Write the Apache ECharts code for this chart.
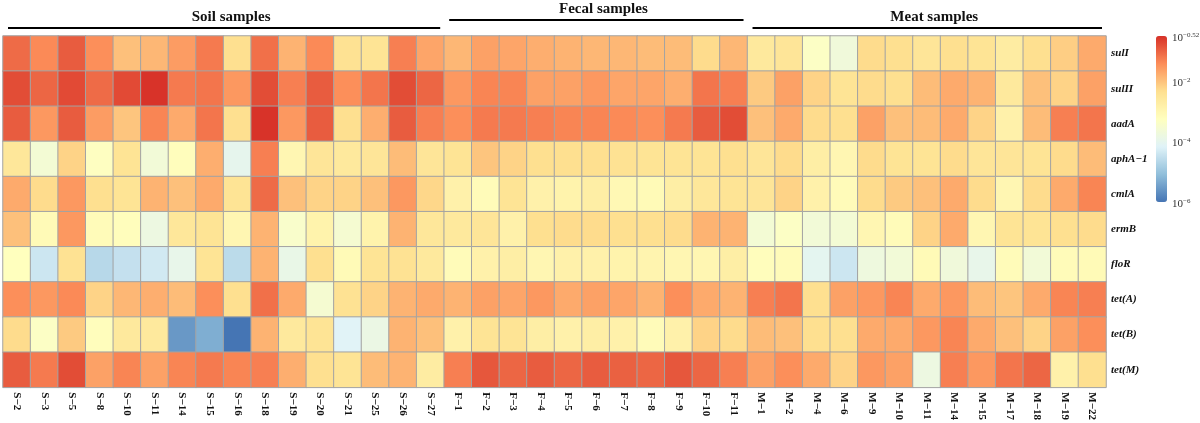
<!DOCTYPE html>
<html>
<head>
<meta charset="utf-8">
<title>ARG heatmap</title>
<script src="https://cdn.jsdelivr.net/npm/echarts@6/dist/echarts.min.js"></script>
<style>
  html, body { margin: 0; padding: 0; background: #fff; }
  #main { width: 1200px; height: 423px; }
</style>
</head>
<body>
<div id="main"></div>
<script>
// sample names (x axis), in drawing order
const soilSamples = ['S−2', 'S−3', 'S−5', 'S−8', 'S−10', 'S−11', 'S−14', 'S−15', 'S−16', 'S−18', 'S−19', 'S−20', 'S−21', 'S−25', 'S−26', 'S−27'];
const fecalSamples = ['F−1', 'F−2', 'F−3', 'F−4', 'F−5', 'F−6', 'F−7', 'F−8', 'F−9', 'F−10', 'F−11'];
const meatSamples = ['M−1', 'M−2', 'M−4', 'M−6', 'M−9', 'M−10', 'M−11', 'M−14', 'M−15', 'M−17', 'M−18', 'M−19', 'M−22'];
const groupNames = ['Soil samples', 'Fecal samples', 'Meat samples'];

// genes (rows, top to bottom)
const genes = ['sulI', 'sulII', 'aadA', 'aphA−1', 'cmlA', 'ermB', 'floR', 'tet(A)', 'tet(B)', 'tet(M)'];

// log10 relative abundance per gene: 16 soil, 11 fecal, 13 meat
const sulI = [-1.1, -1.4, -0.95, -1.45, -2.0, -1.9, -1.6, -1.25, -2.35, -1.15, -1.85, -1.4, -2.4, -2.45, -1.3, -1.7,
  -1.9, -1.65, -1.7, -1.8, -1.85, -1.9, -1.9, -1.95, -1.95, -2.3, -1.9,
  -2.6, -2.5, -3.35, -3.7, -2.3, -2.35, -2.5, -2.35, -2.45, -2.7, -2.35, -2.15, -1.75];
const sulII = [-0.8, -1.05, -0.78, -1.1, -0.78, -0.55, -1.25, -1.2, -1.55, -0.8, -1.3, -0.95, -1.45, -1.2, -0.8, -1.05,
  -1.55, -1.35, -1.35, -1.65, -1.65, -1.55, -1.7, -1.7, -1.8, -1.2, -1.3,
  -2.1, -1.65, -2.2, -2.45, -2.3, -2.35, -1.95, -1.75, -1.85, -2.6, -2.0, -2.2, -1.65];
const aadA = [-0.95, -1.55, -0.95, -1.6, -2.05, -1.35, -1.75, -1.2, -2.35, -0.55, -1.55, -0.95, -2.35, -1.8, -0.95, -1.3,
  -1.45, -1.25, -1.25, -1.3, -1.35, -1.35, -1.4, -1.45, -1.25, -0.95, -0.8,
  -2.0, -1.75, -2.3, -2.35, -1.65, -2.0, -1.95, -1.75, -2.2, -2.85, -1.95, -1.3, -1.2];
const aphA1 = [-2.55, -3.6, -2.2, -3.3, -2.45, -3.65, -3.2, -1.8, -4.0, -1.3, -3.0, -2.5, -2.6, -2.5, -1.95, -2.5,
  -2.45, -2.05, -2.2, -2.35, -2.35, -2.35, -2.4, -2.45, -2.45, -2.45, -2.35,
  -2.5, -2.3, -2.75, -3.0, -2.3, -2.45, -2.45, -2.3, -2.5, -2.5, -2.45, -2.3, -1.95];
const cmlA = [-1.75, -2.3, -1.55, -2.35, -2.45, -1.85, -2.0, -1.75, -2.45, -1.1, -2.0, -2.2, -2.2, -2.0, -1.55, -2.25,
  -2.85, -3.15, -2.45, -2.85, -2.9, -2.75, -3.05, -3.1, -2.75, -2.55, -2.45,
  -2.5, -2.2, -2.85, -3.15, -2.3, -2.1, -2.0, -1.75, -2.3, -3.0, -2.3, -1.75, -1.35];
const ermB = [-2.0, -3.1, -1.55, -3.15, -3.2, -3.8, -2.55, -2.45, -3.0, -1.85, -3.45, -2.9, -3.55, -2.9, -1.85, -2.55,
  -2.6, -2.5, -2.85, -2.35, -2.3, -2.3, -2.35, -2.35, -2.3, -1.85, -1.85,
  -3.6, -3.35, -3.65, -3.6, -3.0, -3.15, -2.2, -1.75, -3.0, -2.45, -2.45, -2.35, -2.3];
const floR = [-3.25, -4.4, -2.4, -4.65, -4.5, -4.35, -3.95, -2.45, -4.6, -1.85, -3.9, -2.35, -3.1, -2.45, -2.4, -2.6,
  -3.15, -2.85, -2.75, -3.0, -2.85, -2.85, -2.9, -2.95, -3.0, -3.0, -2.75,
  -3.2, -3.15, -4.05, -4.4, -3.75, -3.65, -3.1, -3.7, -3.95, -3.15, -3.65, -3.15, -3.1];
const tetA = [-1.45, -1.55, -1.4, -2.2, -1.9, -1.8, -1.95, -1.45, -2.35, -1.15, -1.75, -3.55, -2.4, -2.2, -1.85, -1.75,
  -1.85, -1.65, -1.7, -1.55, -1.75, -1.65, -1.7, -1.85, -1.45, -1.75, -1.85,
  -1.3, -1.2, -2.35, -1.65, -1.55, -1.35, -1.75, -1.55, -1.95, -2.05, -1.75, -1.35, -1.3];
const tetB = [-2.3, -3.35, -2.1, -3.2, -2.6, -2.6, -5.57, -5.3, -6.0, -1.85, -2.6, -2.45, -4.15, -3.85, -1.85, -2.0,
  -2.85, -2.45, -2.45, -2.75, -2.85, -2.75, -2.85, -3.15, -2.85, -2.2, -2.3,
  -1.95, -2.0, -2.35, -2.35, -1.75, -1.75, -1.55, -1.35, -1.75, -2.0, -2.2, -1.65, -1.45];
const tetM = [-0.95, -1.25, -0.8, -1.65, -1.35, -1.65, -1.35, -1.25, -1.35, -1.3, -1.8, -2.35, -2.45, -1.95, -1.85, -2.7,
  -1.3, -0.9, -1.05, -0.95, -1.05, -0.95, -1.0, -1.05, -0.9, -1.05, -1.3,
  -1.65, -1.45, -1.75, -2.2, -1.55, -1.65, -3.8, -1.3, -1.55, -1.2, -1.05, -2.85, -2.35];

// colour scale range (log10) and legend ticks
const scaleMin = -6;
const scaleMax = -0.52;
const legendTicks = [-0.52, -2, -4, -6];

const rows = [sulI, sulII, aadA, aphA1, cmlA, ermB, floR, tetA, tetB, tetM];
const groups = [soilSamples, fecalSamples, meatSamples];
const samples = [].concat(soilSamples, fecalSamples, meatSamples);

const cells = [];
rows.forEach((vals, gi) => {
  vals.forEach((v, si) => cells.push([si, gi, v]));
});

const serif = '"Liberation Serif", "DejaVu Serif", serif';
const chart = echarts.init(document.getElementById('main'), null, { renderer: 'canvas' });

const vmTop = 36, vmHeight = 166, vmLeft = 1156;

chart.setOption({
  backgroundColor: '#fff',
  animation: false,
  grid: { left: 3, top: 36, right: 94, bottom: 35 },
  xAxis: {
    type: 'category',
    data: samples,
    axisLine: { show: false },
    axisTick: { show: false },
    splitLine: { show: false },
    axisLabel: {
      rotate: -90,
      interval: 0,
      margin: 5,
      fontFamily: serif,
      fontWeight: 'bold',
      fontSize: 11,
      color: '#111'
    }
  },
  yAxis: {
    type: 'category',
    data: genes,
    inverse: true,
    position: 'right',
    axisLine: { show: false },
    axisTick: { show: false },
    splitLine: { show: false },
    axisLabel: {
      margin: 5,
      fontFamily: serif,
      fontWeight: 'bold',
      fontStyle: 'italic',
      fontSize: 11,
      color: '#111'
    }
  },
  visualMap: {
    type: 'continuous',
    min: scaleMin,
    max: scaleMax,
    calculable: false,
    orient: 'vertical',
    left: vmLeft,
    top: vmTop,
    itemWidth: 11,
    itemHeight: vmHeight,
    padding: 0,
    text: null,
    showLabel: false,
    inRange: {
      color: ['#4575b4', '#91bfdb', '#e0f3f8', '#ffffbf', '#fee090', '#fc8d59', '#d73027']
    }
  },
  series: [{
    type: 'heatmap',
    data: cells,
    itemStyle: { borderColor: '#a3a3a3', borderWidth: 1 },
    emphasis: { disabled: true }
  }]
});

// group headers and legend tick labels
const headerLift = [0, 8, 0];
const graphics = [];
groups.forEach((g, i) => {
  const c0 = chart.convertToPixel({ xAxisIndex: 0 }, g[0]);
  const c1 = chart.convertToPixel({ xAxisIndex: 0 }, g[g.length - 1]);
  const cw = chart.convertToPixel({ xAxisIndex: 0 }, samples[1]) - chart.convertToPixel({ xAxisIndex: 0 }, samples[0]);
  const x0 = c0 - cw / 2 + 5;
  const x1 = c1 + cw / 2 - 4;
  const ly = 28 - headerLift[i];
  graphics.push({
    type: 'line',
    shape: { x1: x0, y1: ly, x2: x1, y2: ly },
    style: { stroke: '#000', lineWidth: 2 }
  });
  graphics.push({
    type: 'text',
    x: (x0 + x1) / 2 + 7,
    y: ly - 11,
    style: {
      text: groupNames[i],
      fontFamily: serif,
      fontWeight: 'bold',
      fontSize: 15,
      fill: '#111',
      textAlign: 'center',
      textVerticalAlign: 'middle'
    }
  });
});

legendTicks.forEach(t => {
  const y = vmTop + (scaleMax - t) / (scaleMax - scaleMin) * vmHeight;
  graphics.push({
    type: 'text',
    x: vmLeft + 16,
    y: y + 2,
    style: {
      text: '{b|10}{s|' + String(t).replace('-', '−') + '}',
      textVerticalAlign: 'middle',
      rich: {
        b: { fontFamily: serif, fontSize: 11, fill: '#333', color: '#333' },
        s: { fontFamily: serif, fontSize: 7, fill: '#333', color: '#333', verticalAlign: 'top', padding: [0, 0, 6, 0] }
      }
    }
  });
});

chart.setOption({ graphic: graphics });
window.addEventListener('resize', () => chart.resize());
</script>
</body>
</html>
